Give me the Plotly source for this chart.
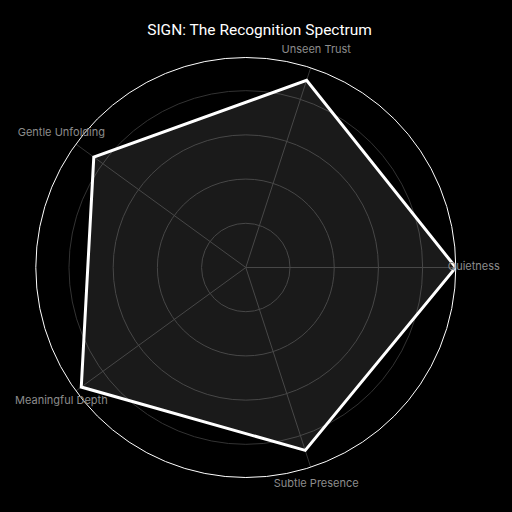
import plotly.graph_objects as go

categories = ["Quietness", "Unseen Trust", "Gentle Unfolding", "Meaningful Depth", "Subtle Presence"]
values = [9.5, 8.9, 8.5, 9.2, 8.7]
title_text = "SIGN: The Recognition Spectrum"

r_max = 9.5

# layout geometry (pixels in a 512x512 canvas)
W = H = 512
cx, cy, rad = 245.8, 267.5, 210.0
label_rad = 228.0


def dom(radius):
    x = [(cx - radius) / W, (cx + radius) / W]
    y = [1 - (cy + radius) / H, 1 - (cy - radius) / H]
    return dict(x=x, y=y)


r_closed = values + [values[0]]
theta_closed = categories + [categories[0]]

fig = go.Figure()
fig.add_trace(go.Scatterpolar(
    r=r_closed,
    theta=theta_closed,
    mode="lines",
    fill="toself",
    fillcolor="rgba(255,255,255,0.1)",
    line=dict(color="white", width=3),
    hoverinfo="skip",
    subplot="polar",
))
# category labels, centred on each spoke just outside the outer ring
fig.add_trace(go.Scatterpolar(
    r=[1] * len(categories),
    theta=categories,
    mode="text",
    text=categories,
    textposition="middle center",
    textfont=dict(family="Inter", size=11, color="#8c8c8c"),
    cliponaxis=False,
    hoverinfo="skip",
    subplot="polar2",
))

fig.update_layout(
    width=W, height=H,
    paper_bgcolor="black",
    plot_bgcolor="black",
    showlegend=False,
    margin=dict(l=0, r=0, t=0, b=0),
    title=dict(text=title_text, x=0.507, xanchor="center", y=0.943, yanchor="middle",
               font=dict(family="Roboto", size=15.5, color="white")),
    font=dict(family="Inter", color="#8c8c8c", size=11),
    polar=dict(
        domain=dom(rad),
        bgcolor="black",
        radialaxis=dict(range=[0, r_max], dtick=2, showticklabels=False, ticks="",
                        showline=False, gridcolor="#333333", gridwidth=1),
        angularaxis=dict(rotation=0, direction="counterclockwise",
                         linecolor="white", linewidth=1, gridcolor="#333333",
                         ticks="", showticklabels=False),
    ),
    polar2=dict(
        domain=dom(label_rad),
        bgcolor="rgba(0,0,0,0)",
        radialaxis=dict(range=[0, 1], visible=False),
        angularaxis=dict(rotation=0, direction="counterclockwise", categoryarray=categories,
                         visible=False, showgrid=False, showline=False, showticklabels=False),
    ),
)

fig.write_html("out.html", config={"displayModeBar": False},
               post_script="document.body.style.margin='0';document.body.style.overflow='hidden';")
